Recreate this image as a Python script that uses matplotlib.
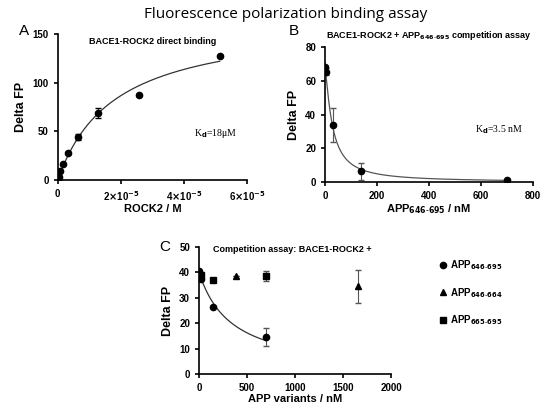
import numpy as np
import matplotlib
matplotlib.use("Agg")
import matplotlib.pyplot as plt
from matplotlib.ticker import FuncFormatter
from matplotlib.lines import Line2D

plt.rcParams['font.family'] = ['Liberation Sans', 'DejaVu Sans']
plt.rcParams['mathtext.default'] = 'bf'

# Panel A data
a_x = [0, 0.03e-5, 0.07e-5, 0.16e-5, 0.32e-5, 0.65e-5, 1.28e-5, 2.58e-5, 5.12e-5]
a_y = [0, 3, 9, 16.5, 27.5, 44.6, 69, 87, 127]
a_err = [0, 0, 0, 1, 1, 3, 5, 1, 1]
a_bmax, a_kd = 165, 1.8e-5

# Panel B data
b_x = [0, 5, 30, 140, 700]
b_y = [68, 65.5, 34, 6.5, 1.5]
b_err = [1, 2, 10, 5, 0.5]
b_top, b_ic50, b_hill = 68, 28, 1.3

# Panel C data
c1_x = [0, 0, 25, 140, 700]; c1_y = [40.5, 38.5, 37.5, 26.5, 14.5]; c1_err = [0, 0, 0, 0, 3.5]
c2_x = [0, 380, 1660]; c2_y = [39, 38.5, 34.5]; c2_err = [0, 0, 6.5]
c3_x = [25, 140, 700]; c3_y = [39, 37, 38.5]; c3_err = [0, 0, 2]
c_top, c_ic50 = 40, 340
c_labels = ["APP$_{646\\text{-}695}$", "APP$_{646\\text{-}664}$", "APP$_{665\\text{-}695}$"]

fig = plt.figure(figsize=(5.5, 4.11), dpi=100)
fig.text(0.52, 0.965, "Fluorescence polarization binding assay", ha='center', va='center',
         fontsize=11, family=['Open Sans', 'DejaVu Sans'])

def style(ax):
    for s in ['top', 'right']:
        ax.spines[s].set_visible(False)
    ax.spines['left'].set_linewidth(1.2)
    ax.spines['bottom'].set_linewidth(1.2)
    ax.tick_params(labelsize=7, width=1.2, length=3)
    for l in ax.get_xticklabels() + ax.get_yticklabels():
        l.set_fontweight('bold')

# A
ax = fig.add_axes([0.105, 0.562, 0.345, 0.355])
xs = np.linspace(0, 5.12e-5, 200)
ax.plot(xs, a_bmax * xs / (a_kd + xs), color='#333333', lw=0.9)
ax.errorbar(a_x, a_y, yerr=a_err, fmt='o', color='black', ms=4.5, capsize=2, elinewidth=0.8)
ax.set_xlim(0, 6e-5); ax.set_ylim(0, 150)
ax.set_xticks([0, 2e-5, 4e-5, 6e-5]); ax.set_yticks([0, 50, 100, 150])
ax.xaxis.set_major_formatter(FuncFormatter(lambda v, p: '0' if v == 0 else r'%d$\times$10$^{-5}$' % round(v / 1e-5)))
style(ax)
ax.set_xlabel("ROCK2 / M", fontsize=8, fontweight='bold', labelpad=1)
ax.set_ylabel("Delta FP", fontsize=9, fontweight='bold')
ax.text(0.5, 0.93, "BACE1-ROCK2 direct binding", transform=ax.transAxes, ha='center', fontsize=6.5, fontweight='bold')
ax.text(0.72, 0.3, r"K$_d$=18μM", transform=ax.transAxes, fontsize=7, family='Liberation Serif')
fig.text(0.035, 0.915, "A", fontsize=11)

# B
ax = fig.add_axes([0.591, 0.557, 0.378, 0.328])
xs = np.linspace(0, 700, 400)
ax.plot(xs, b_top / (1 + (xs / b_ic50) ** b_hill), color='#555555', lw=0.9)
ax.errorbar(b_x, b_y, yerr=b_err, fmt='o', color='black', ms=4.5, capsize=2, elinewidth=0.8, ecolor='#555555')
ax.set_xlim(0, 800); ax.set_ylim(0, 80)
ax.set_xticks([0, 200, 400, 600, 800]); ax.set_yticks([0, 20, 40, 60, 80])
style(ax)
ax.set_xlabel(r"APP$_{646\text{-}695}$ / nM", fontsize=8, fontweight='bold', labelpad=1)
ax.set_ylabel("Delta FP", fontsize=9, fontweight='bold')
ax.text(0.5, 1.07, r"BACE1-ROCK2 + APP$_{646\text{-}695}$ competition assay", transform=ax.transAxes, ha='center', fontsize=6.5, fontweight='bold')
ax.text(0.72, 0.37, r"K$_d$=3.5 nM", transform=ax.transAxes, fontsize=7, family='Liberation Serif')
fig.text(0.525, 0.915, "B", fontsize=11)

# C
ax = fig.add_axes([0.362, 0.09, 0.349, 0.309])
xs = np.linspace(0, 700, 200)
ax.plot(xs, c_top / (1 + xs / c_ic50), color='#333333', lw=0.9)
markers = ['o', '^', 's']
for (x, y, e), m in zip([(c1_x, c1_y, c1_err), (c2_x, c2_y, c2_err), (c3_x, c3_y, c3_err)], markers):
    ax.errorbar(x, y, yerr=e, fmt=m, color='black', ms=4.5, capsize=2, elinewidth=0.8, ecolor='#555555')
ax.set_xlim(0, 2000); ax.set_ylim(0, 50)
ax.set_xticks([0, 500, 1000, 1500, 2000]); ax.set_yticks([0, 10, 20, 30, 40, 50])
style(ax)
ax.set_xlabel("APP variants / nM", fontsize=8, fontweight='bold', labelpad=1)
ax.set_ylabel("Delta FP", fontsize=9, fontweight='bold')
ax.text(0.07, 0.96, "Competition assay: BACE1-ROCK2 +", transform=ax.transAxes, fontsize=6.5, fontweight='bold')
handles = [Line2D([], [], ls='none', marker=m, color='black', ms=4.5) for m in markers]
leg = ax.legend(handles, c_labels, loc='upper left', bbox_to_anchor=(1.2, 0.98), frameon=False, fontsize=7,
                handletextpad=0.2, handlelength=1, labelspacing=1.4)
for t in leg.get_texts():
    t.set_fontweight('bold')
fig.text(0.29, 0.39, "C", fontsize=11)

fig.savefig("out.png", dpi=100)
